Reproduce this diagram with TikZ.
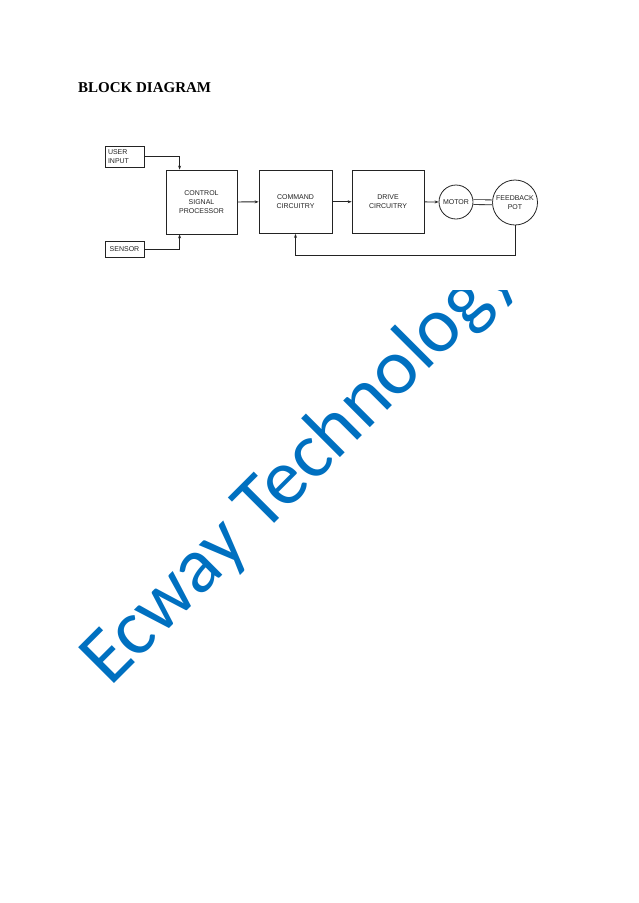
\documentclass[tikz,border=0pt]{standalone}
\usepackage{fontspec}
\setmainfont{Liberation Serif}
\newfontfamily\diagfont{Liberation Sans}
\newfontfamily\markfont{Carlito}
\usetikzlibrary{arrows.meta}
\definecolor{markblue}{RGB}{0,112,192}
\definecolor{inkgray}{RGB}{35,35,35}
\begin{document}
\begin{tikzpicture}[x=1pt, y=-1pt,
	blk/.style={draw=inkgray, line width=.8pt, inner sep=3pt, align=center,
		font=\diagfont\fontsize{7}{8.6}\selectfont, text=inkgray},
	circ/.style={blk, circle, inner sep=0pt},
	arr/.style={draw=inkgray, line width=.8pt, -{Stealth[length=4pt, width=3pt]}},
	]
	\useasboundingbox (0, 0) rectangle (638, 903);
	
	% title
	\node [anchor=base west, inner sep=0pt, font=\bfseries\fontsize{15}{18}\selectfont] (title) at (78, 92) {BLOCK DIAGRAM};
	
	% watermark
	\begin{scope}
	\clip (0, 290) rectangle (638, 903);
	\node [anchor=base west, inner sep=0pt, rotate=45, text=markblue, font=\markfont\fontsize{79}{82}\selectfont] (mark) at (110, 688) {Ecway Technology};
	\end{scope}
	
	% modules
	\node [blk, minimum width=39, minimum height=21, text width=33, align=left] (user) at (124.5, 156.5) {USER\\INPUT};
	\node [blk, minimum width=39, minimum height=15.5] (sensor) at (124.5, 249.5) {SENSOR};
	\node [blk, minimum width=71, minimum height=64] (csp) at (201.5, 202) {CONTROL\\SIGNAL\\PROCESSOR};
	\node [blk, minimum width=73, minimum height=63.5] (cmd) at (295.5, 201.75) {COMMAND\\CIRCUITRY};
	\node [blk, minimum width=72, minimum height=63.5] (drv) at (388, 201.75) {DRIVE\\CIRCUITRY};
	\node [circ, minimum size=34] (motor) at (456, 202) {MOTOR};
	\node [circ, minimum size=45] (pot) at (515, 202.5) {FEEDBACK\\POT};
	
	% lines
	\draw [arr] (user.east) -| ([xshift=14pt]csp.north west);
	\draw [arr] (sensor.east) -| ([xshift=14pt]csp.south west);
	\draw [arr] (csp) -- (cmd);
	\draw [arr] (cmd) -- (drv);
	\draw [arr] (drv) -- (motor);
	\draw [draw=inkgray, line width=.8pt, double, double distance=4pt] (motor) -- (pot);
	
	% feedback
	\path (cmd.south) ++(0, 21.5) coordinate (fbk);
	\draw [arr] (pot.south) |- (fbk) -- (cmd.south);
\end{tikzpicture}
\end{document}
